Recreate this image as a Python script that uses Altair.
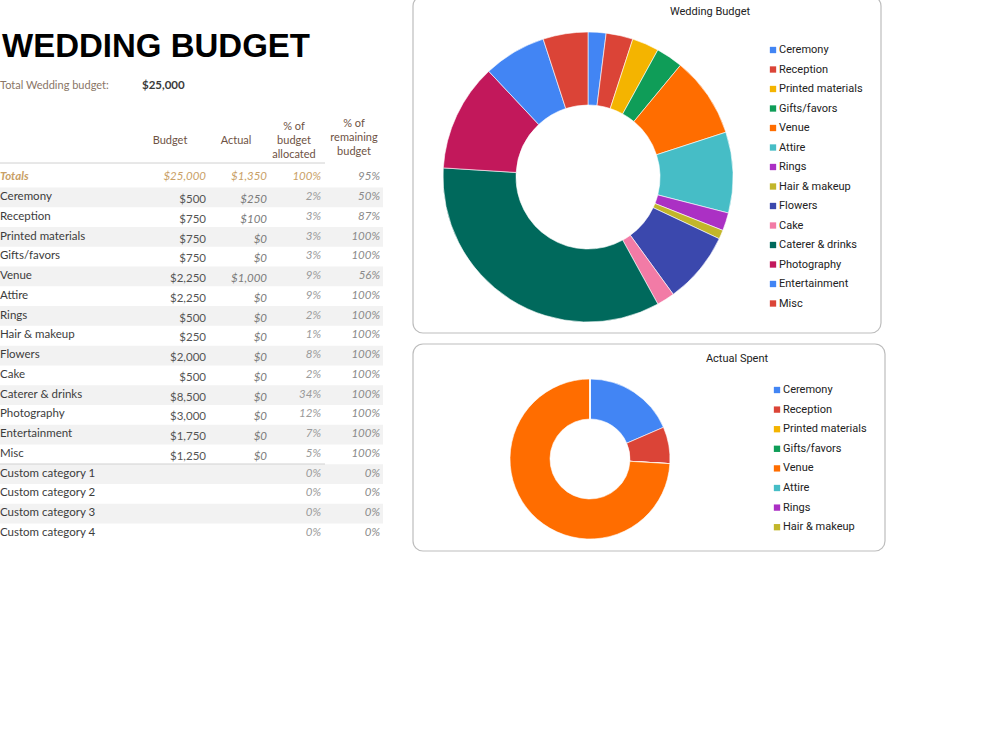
import altair as alt
import pandas as pd

# ---------------- data ----------------
categories = ["Ceremony", "Reception", "Printed materials", "Gifts/favors", "Venue",
              "Attire", "Rings", "Hair & makeup", "Flowers", "Cake",
              "Caterer & drinks", "Photography", "Entertainment", "Misc"]
budget = [500, 750, 750, 750, 2250, 2250, 500, 250, 2000, 500, 8500, 3000, 1750, 1250]
actual = [250, 100, 0, 0, 1000, 0, 0, 0, 0, 0, 0, 0, 0, 0]
pct_allocated = [2, 3, 3, 3, 9, 9, 2, 1, 8, 2, 34, 12, 7, 5]
pct_remaining = [50, 87, 100, 100, 56, 100, 100, 100, 100, 100, 100, 100, 100, 100]
custom_categories = ["Custom category 1", "Custom category 2", "Custom category 3", "Custom category 4"]
custom_pct_allocated = [0, 0, 0, 0]
custom_pct_remaining = [0, 0, 0, 0]
colors = ["#4285F4", "#DB4437", "#F4B400", "#0F9D58", "#FF6D00", "#46BDC6", "#AB30C4",
          "#C2B62A", "#3B48AD", "#F27BA6", "#00695C", "#C2185B", "#4285F4", "#DB4437"]
total_wedding_budget = 25000
totals_values = {"budget": 25000, "actual": 1350, "pa": 100, "pr": 95}
actual_legend_count = 8

# ---------------- frames ----------------
n = len(categories)
main = pd.DataFrame({"cat": categories, "row": list(range(n)), "budget": budget,
                     "actual": actual, "pa": pct_allocated, "pr": pct_remaining,
                     "idx": list(range(n))})
custom = pd.DataFrame({"cat": custom_categories, "row": list(range(n, n + len(custom_categories))),
                       "pa": custom_pct_allocated, "pr": custom_pct_remaining})
labels = pd.concat([main[["cat", "row"]], custom[["cat", "row"]]], ignore_index=True)
totals = pd.DataFrame({"row": [-1], **{k: [v] for k, v in totals_values.items()}})
one = pd.DataFrame({"k": [0]})

ROW = alt.Scale(domain=[0, 17], range=[197, 533], nice=False, zero=False)
LEG1 = alt.Scale(domain=[0, 13], range=[50, 303.5], nice=False, zero=False)
LEG2 = alt.Scale(domain=[0, 7], range=[390, 527.2], nice=False, zero=False)
CSCALE = alt.Scale(domain=categories, range=colors)

TF = "Lato"
FS = 11.5

layers = []

# frames
for (x1, x2, y1, y2) in [(413, 881, -4, 333), (413, 885, 344, 551)]:
    layers.append(alt.Chart(one).mark_rect(fill="white", stroke="#bdbdbd", strokeWidth=1.2,
                                           cornerRadius=10).encode(
        x=alt.value(x1), x2=alt.value(x2), y=alt.value(y1), y2=alt.value(y2)))

# stripes
layers.append(alt.Chart(labels).transform_filter("datum.row % 2 == 0").transform_calculate(
    lo="datum.row - 0.48", hi="datum.row + 0.52").mark_rect(color="#f2f2f2").encode(
    y=alt.Y("lo:Q", scale=ROW, axis=None), y2="hi:Q", x=alt.value(0), x2=alt.value(383)))

# rules
for yv, x2 in [(163, 325), (464, 325)]:
    layers.append(alt.Chart(one).mark_rule(color="#d0d0d0", strokeWidth=1).encode(
        x=alt.value(0), x2=alt.value(x2), y=alt.value(yv)))

# title and top texts
layers.append(alt.Chart(one).mark_text(text="WEDDING BUDGET", font="Liberation Sans", fontWeight="bold",
                                       fontSize=33, align="left", baseline="alphabetic",
                                       color="#000000").encode(x=alt.value(2), y=alt.value(57)))
layers.append(alt.Chart(one).mark_text(text="Total Wedding budget:", font=TF, fontSize=11,
                                       align="left", baseline="middle", color="#8a7566").encode(
    x=alt.value(0), y=alt.value(86)))
layers.append(alt.Chart(one).mark_text(text="$" + format(total_wedding_budget, ","), font=TF,
                                       fontSize=11.5, fontWeight="bold", align="left",
                                       baseline="middle", color="#3a3a3a").encode(
    x=alt.value(142), y=alt.value(86)))

# headers (first line position given)
HC = "#6e5244"
for txt, xv, yv in [("Budget", 170, 141), ("Actual", 236, 141),
                    (["% of", "budget", "allocated"], 294, 127),
                    (["% of", "remaining", "budget"], 354, 124)]:
    layers.append(alt.Chart(one).mark_text(text=txt, font=TF, fontSize=11, lineHeight=14,
                                           align="center", baseline="middle", color=HC).encode(
        x=alt.value(xv), y=alt.value(yv)))

# category labels
layers.append(alt.Chart(labels).mark_text(font=TF, fontSize=FS, align="left", baseline="middle",
                                          color="#3c3c3c").encode(
    y=alt.Y("row:Q", scale=ROW, axis=None), x=alt.value(0), text="cat:N"))

# values
layers.append(alt.Chart(main).mark_text(font=TF, fontSize=FS, align="right", baseline="middle",
                                        dy=3, color="#555555").encode(
    y=alt.Y("row:Q", scale=ROW, axis=None), x=alt.value(206),
    text=alt.Text("budget:Q", format="$,.0f")))
layers.append(alt.Chart(main).mark_text(font=TF, fontSize=FS, align="right", baseline="middle",
                                        dy=3, fontStyle="italic", color="#7a7a7a").encode(
    y=alt.Y("row:Q", scale=ROW, axis=None), x=alt.value(267),
    text=alt.Text("actual:Q", format="$,.0f")))
for df in (main, custom):
    layers.append(alt.Chart(df).transform_calculate(t="datum.pa + '%'").mark_text(
        font=TF, fontSize=FS, align="right", baseline="middle", fontStyle="italic",
        color="#9a9a9a").encode(y=alt.Y("row:Q", scale=ROW, axis=None), x=alt.value(321),
                                text="t:N"))
    layers.append(alt.Chart(df).transform_calculate(t="datum.pr + '%'").mark_text(
        font=TF, fontSize=FS, align="right", baseline="middle", fontStyle="italic",
        color="#8a8a8a").encode(y=alt.Y("row:Q", scale=ROW, axis=None), x=alt.value(380),
                                text="t:N"))

# totals row
GOLD = "#c9a066"
layers.append(alt.Chart(totals).mark_text(text="Totals", font=TF, fontSize=FS, fontWeight="bold",
                                          fontStyle="italic", align="left", baseline="middle",
                                          color=GOLD).encode(
    y=alt.Y("row:Q", scale=ROW, axis=None), x=alt.value(0)))
layers.append(alt.Chart(totals).mark_text(font=TF, fontSize=FS, fontStyle="italic", align="right",
                                          baseline="middle", color=GOLD).encode(
    y=alt.Y("row:Q", scale=ROW, axis=None), x=alt.value(206),
    text=alt.Text("budget:Q", format="$,.0f")))
layers.append(alt.Chart(totals).mark_text(font=TF, fontSize=FS, fontStyle="italic", align="right",
                                          baseline="middle", color=GOLD).encode(
    y=alt.Y("row:Q", scale=ROW, axis=None), x=alt.value(267),
    text=alt.Text("actual:Q", format="$,.0f")))
layers.append(alt.Chart(totals).transform_calculate(t="datum.pa + '%'").mark_text(
    font=TF, fontSize=FS, fontStyle="italic", align="right", baseline="middle", color=GOLD).encode(
    y=alt.Y("row:Q", scale=ROW, axis=None), x=alt.value(321), text="t:N"))
layers.append(alt.Chart(totals).transform_calculate(t="datum.pr + '%'").mark_text(
    font=TF, fontSize=FS, fontStyle="italic", align="right", baseline="middle",
    color="#8a8a8a").encode(
    y=alt.Y("row:Q", scale=ROW, axis=None), x=alt.value(380), text="t:N"))

# ---------------- donut 1 ----------------
layers.append(alt.Chart(main).mark_arc(innerRadius=72, outerRadius=145, stroke="white",
                                       strokeWidth=0.6).encode(
    theta=alt.Theta("budget:Q", stack=True),
    color=alt.Color("cat:N", scale=CSCALE, legend=None),
    order=alt.Order("idx:Q"),
    x=alt.value(588), y=alt.value(177)))
layers.append(alt.Chart(one).mark_text(text="Wedding Budget", font="Roboto", fontSize=11,
                                       align="center", baseline="middle", color="#222222").encode(
    x=alt.value(710), y=alt.value(12)))
layers.append(alt.Chart(main).mark_square(size=40, opacity=1).encode(
    y=alt.Y("row:Q", scale=LEG1, axis=None), x=alt.value(773),
    color=alt.Color("cat:N", scale=CSCALE, legend=None)))
layers.append(alt.Chart(main).mark_text(font="Roboto", fontSize=11, align="left", baseline="middle",
                                        color="#222222").encode(
    y=alt.Y("row:Q", scale=LEG1, axis=None), x=alt.value(779), text="cat:N"))

# ---------------- donut 2 ----------------
spent = main[main["row"] < actual_legend_count]
layers.append(alt.Chart(spent).mark_arc(innerRadius=40, outerRadius=80, stroke="white",
                                        strokeWidth=0.6).encode(
    theta=alt.Theta("actual:Q", stack=True),
    color=alt.Color("cat:N", scale=CSCALE, legend=None),
    order=alt.Order("idx:Q"),
    x=alt.value(590), y=alt.value(459)))
layers.append(alt.Chart(one).mark_text(text="Actual Spent", font="Roboto", fontSize=11,
                                       align="center", baseline="middle", color="#222222").encode(
    x=alt.value(737), y=alt.value(359)))
layers.append(alt.Chart(spent).mark_square(size=40, opacity=1).encode(
    y=alt.Y("row:Q", scale=LEG2, axis=None), x=alt.value(777),
    color=alt.Color("cat:N", scale=CSCALE, legend=None)))
layers.append(alt.Chart(spent).mark_text(font="Roboto", fontSize=11, align="left", baseline="middle",
                                         color="#222222").encode(
    y=alt.Y("row:Q", scale=LEG2, axis=None), x=alt.value(783), text="cat:N"))

chart = alt.layer(*layers).resolve_scale(
    y="independent", color="independent", theta="independent"
).properties(
    width=1000, height=750, autosize="none", padding=0, background="white"
).configure_view(stroke=None)

chart.save("out.html", embed_options={"renderer": "svg", "actions": False})
